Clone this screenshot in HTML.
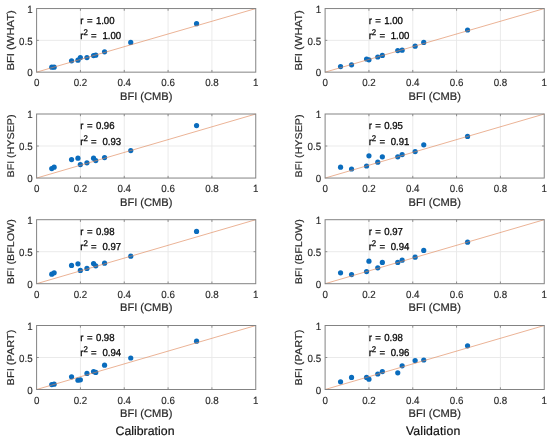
<!DOCTYPE html><html><head><meta charset="utf-8"><title>BFI comparison</title><style>html,body{margin:0;padding:0;background:#fff}svg{display:block}text{font-family:"Liberation Sans",Arial,sans-serif;text-rendering:geometricPrecision}</style></head><body>
<svg width="550" height="441" viewBox="0 0 550 441">
<rect width="550" height="441" fill="#fff"/>
<g><line x1="80.43" y1="8.55" x2="80.43" y2="72.15" stroke="#e8e8e8" stroke-width="0.9"/><line x1="124.26" y1="8.55" x2="124.26" y2="72.15" stroke="#e8e8e8" stroke-width="0.9"/><line x1="168.09" y1="8.55" x2="168.09" y2="72.15" stroke="#e8e8e8" stroke-width="0.9"/><line x1="211.92" y1="8.55" x2="211.92" y2="72.15" stroke="#e8e8e8" stroke-width="0.9"/><line x1="36.60" y1="40.35" x2="255.75" y2="40.35" stroke="#e8e8e8" stroke-width="0.9"/><circle cx="51.75" cy="67.20" r="2.6" fill="#0a6cbd"/><circle cx="54.15" cy="67.20" r="2.6" fill="#0a6cbd"/><circle cx="71.55" cy="60.80" r="2.6" fill="#0a6cbd"/><circle cx="77.95" cy="60.20" r="2.6" fill="#0a6cbd"/><circle cx="80.35" cy="57.60" r="2.6" fill="#0a6cbd"/><circle cx="86.95" cy="57.60" r="2.6" fill="#0a6cbd"/><circle cx="93.55" cy="55.60" r="2.6" fill="#0a6cbd"/><circle cx="95.75" cy="55.20" r="2.6" fill="#0a6cbd"/><circle cx="104.55" cy="51.80" r="2.6" fill="#0a6cbd"/><circle cx="130.75" cy="42.40" r="2.6" fill="#0a6cbd"/><circle cx="196.55" cy="23.70" r="2.6" fill="#0a6cbd"/><line x1="36.60" y1="72.15" x2="255.75" y2="8.55" stroke="#df8455" stroke-width="0.62"/><rect x="36.60" y="8.55" width="219.15" height="63.60" fill="none" stroke="#838383" stroke-width="1.0"/><line x1="80.43" y1="72.15" x2="80.43" y2="69.95" stroke="#838383" stroke-width="0.9"/><line x1="80.43" y1="8.55" x2="80.43" y2="10.75" stroke="#838383" stroke-width="0.9"/><line x1="124.26" y1="72.15" x2="124.26" y2="69.95" stroke="#838383" stroke-width="0.9"/><line x1="124.26" y1="8.55" x2="124.26" y2="10.75" stroke="#838383" stroke-width="0.9"/><line x1="168.09" y1="72.15" x2="168.09" y2="69.95" stroke="#838383" stroke-width="0.9"/><line x1="168.09" y1="8.55" x2="168.09" y2="10.75" stroke="#838383" stroke-width="0.9"/><line x1="211.92" y1="72.15" x2="211.92" y2="69.95" stroke="#838383" stroke-width="0.9"/><line x1="211.92" y1="8.55" x2="211.92" y2="10.75" stroke="#838383" stroke-width="0.9"/><line x1="36.60" y1="40.35" x2="38.80" y2="40.35" stroke="#838383" stroke-width="0.9"/><line x1="255.75" y1="40.35" x2="253.55" y2="40.35" stroke="#838383" stroke-width="0.9"/><text transform="translate(36.60,86.35) scale(0.94,1)" font-size="10.4" fill="#2a2a2a" stroke="#2a2a2a" stroke-width="0.15" text-anchor="middle">0</text><text transform="translate(80.43,86.35) scale(0.94,1)" font-size="10.4" fill="#2a2a2a" stroke="#2a2a2a" stroke-width="0.15" text-anchor="middle">0.2</text><text transform="translate(124.26,86.35) scale(0.94,1)" font-size="10.4" fill="#2a2a2a" stroke="#2a2a2a" stroke-width="0.15" text-anchor="middle">0.4</text><text transform="translate(168.09,86.35) scale(0.94,1)" font-size="10.4" fill="#2a2a2a" stroke="#2a2a2a" stroke-width="0.15" text-anchor="middle">0.6</text><text transform="translate(211.92,86.35) scale(0.94,1)" font-size="10.4" fill="#2a2a2a" stroke="#2a2a2a" stroke-width="0.15" text-anchor="middle">0.8</text><text transform="translate(255.75,86.35) scale(0.94,1)" font-size="10.4" fill="#2a2a2a" stroke="#2a2a2a" stroke-width="0.15" text-anchor="middle">1</text><text transform="translate(32.60,76.37) scale(0.94,1)" font-size="10.4" fill="#2a2a2a" stroke="#2a2a2a" stroke-width="0.15" text-anchor="end">0</text><text transform="translate(32.60,44.57) scale(0.94,1)" font-size="10.4" fill="#2a2a2a" stroke="#2a2a2a" stroke-width="0.15" text-anchor="end">0.5</text><text transform="translate(32.60,12.77) scale(0.94,1)" font-size="10.4" fill="#2a2a2a" stroke="#2a2a2a" stroke-width="0.15" text-anchor="end">1</text><text transform="translate(146.18,99.60) scale(1,1)" font-size="11.1" fill="#2a2a2a" stroke="#2a2a2a" stroke-width="0.2" text-anchor="middle">BFI (CMB)</text><text transform="translate(13.70,40.35) rotate(-90) scale(1,0.9)" font-size="11.25" fill="#2a2a2a" stroke="#2a2a2a" stroke-width="0.2" text-anchor="middle">BFI (WHAT)</text><text transform="translate(80.33,24.00) scale(0.95,1)" font-size="10.1" word-spacing="0.75" fill="#0a0a0a" stroke="#0a0a0a" stroke-width="0.3" xml:space="preserve">r = 1.00</text><text transform="translate(80.33,39.15) scale(0.95,1)" font-size="10.1" word-spacing="0.2" fill="#0a0a0a" stroke="#0a0a0a" stroke-width="0.3" xml:space="preserve">r<tspan font-size="8.28" dy="-4.1">2</tspan><tspan dy="4.1" dx="0.35"> =  1.00</tspan></text></g>
<g><line x1="80.43" y1="114.00" x2="80.43" y2="178.05" stroke="#e8e8e8" stroke-width="0.9"/><line x1="124.26" y1="114.00" x2="124.26" y2="178.05" stroke="#e8e8e8" stroke-width="0.9"/><line x1="168.09" y1="114.00" x2="168.09" y2="178.05" stroke="#e8e8e8" stroke-width="0.9"/><line x1="211.92" y1="114.00" x2="211.92" y2="178.05" stroke="#e8e8e8" stroke-width="0.9"/><line x1="36.60" y1="146.03" x2="255.75" y2="146.03" stroke="#e8e8e8" stroke-width="0.9"/><circle cx="51.75" cy="168.60" r="2.6" fill="#0a6cbd"/><circle cx="54.15" cy="167.20" r="2.6" fill="#0a6cbd"/><circle cx="71.55" cy="159.60" r="2.6" fill="#0a6cbd"/><circle cx="77.95" cy="158.20" r="2.6" fill="#0a6cbd"/><circle cx="80.35" cy="164.60" r="2.6" fill="#0a6cbd"/><circle cx="86.95" cy="162.80" r="2.6" fill="#0a6cbd"/><circle cx="93.55" cy="158.20" r="2.6" fill="#0a6cbd"/><circle cx="95.75" cy="160.60" r="2.6" fill="#0a6cbd"/><circle cx="104.55" cy="157.60" r="2.6" fill="#0a6cbd"/><circle cx="130.75" cy="150.60" r="2.6" fill="#0a6cbd"/><circle cx="196.55" cy="125.60" r="2.6" fill="#0a6cbd"/><line x1="36.60" y1="178.05" x2="255.75" y2="114.00" stroke="#df8455" stroke-width="0.62"/><rect x="36.60" y="114.00" width="219.15" height="64.05" fill="none" stroke="#838383" stroke-width="1.0"/><line x1="80.43" y1="178.05" x2="80.43" y2="175.85" stroke="#838383" stroke-width="0.9"/><line x1="80.43" y1="114.00" x2="80.43" y2="116.20" stroke="#838383" stroke-width="0.9"/><line x1="124.26" y1="178.05" x2="124.26" y2="175.85" stroke="#838383" stroke-width="0.9"/><line x1="124.26" y1="114.00" x2="124.26" y2="116.20" stroke="#838383" stroke-width="0.9"/><line x1="168.09" y1="178.05" x2="168.09" y2="175.85" stroke="#838383" stroke-width="0.9"/><line x1="168.09" y1="114.00" x2="168.09" y2="116.20" stroke="#838383" stroke-width="0.9"/><line x1="211.92" y1="178.05" x2="211.92" y2="175.85" stroke="#838383" stroke-width="0.9"/><line x1="211.92" y1="114.00" x2="211.92" y2="116.20" stroke="#838383" stroke-width="0.9"/><line x1="36.60" y1="146.03" x2="38.80" y2="146.03" stroke="#838383" stroke-width="0.9"/><line x1="255.75" y1="146.03" x2="253.55" y2="146.03" stroke="#838383" stroke-width="0.9"/><text transform="translate(36.60,192.25) scale(0.94,1)" font-size="10.4" fill="#2a2a2a" stroke="#2a2a2a" stroke-width="0.15" text-anchor="middle">0</text><text transform="translate(80.43,192.25) scale(0.94,1)" font-size="10.4" fill="#2a2a2a" stroke="#2a2a2a" stroke-width="0.15" text-anchor="middle">0.2</text><text transform="translate(124.26,192.25) scale(0.94,1)" font-size="10.4" fill="#2a2a2a" stroke="#2a2a2a" stroke-width="0.15" text-anchor="middle">0.4</text><text transform="translate(168.09,192.25) scale(0.94,1)" font-size="10.4" fill="#2a2a2a" stroke="#2a2a2a" stroke-width="0.15" text-anchor="middle">0.6</text><text transform="translate(211.92,192.25) scale(0.94,1)" font-size="10.4" fill="#2a2a2a" stroke="#2a2a2a" stroke-width="0.15" text-anchor="middle">0.8</text><text transform="translate(255.75,192.25) scale(0.94,1)" font-size="10.4" fill="#2a2a2a" stroke="#2a2a2a" stroke-width="0.15" text-anchor="middle">1</text><text transform="translate(32.60,182.27) scale(0.94,1)" font-size="10.4" fill="#2a2a2a" stroke="#2a2a2a" stroke-width="0.15" text-anchor="end">0</text><text transform="translate(32.60,150.25) scale(0.94,1)" font-size="10.4" fill="#2a2a2a" stroke="#2a2a2a" stroke-width="0.15" text-anchor="end">0.5</text><text transform="translate(32.60,118.22) scale(0.94,1)" font-size="10.4" fill="#2a2a2a" stroke="#2a2a2a" stroke-width="0.15" text-anchor="end">1</text><text transform="translate(146.18,205.50) scale(1,1)" font-size="11.1" fill="#2a2a2a" stroke="#2a2a2a" stroke-width="0.2" text-anchor="middle">BFI (CMB)</text><text transform="translate(13.70,146.03) rotate(-90) scale(1,0.9)" font-size="10.7" fill="#2a2a2a" stroke="#2a2a2a" stroke-width="0.2" text-anchor="middle">BFI (HYSEP)</text><text transform="translate(80.33,129.45) scale(0.95,1)" font-size="10.1" word-spacing="0.75" fill="#0a0a0a" stroke="#0a0a0a" stroke-width="0.3" xml:space="preserve">r = 0.96</text><text transform="translate(80.33,144.60) scale(0.95,1)" font-size="10.1" word-spacing="0.2" fill="#0a0a0a" stroke="#0a0a0a" stroke-width="0.3" xml:space="preserve">r<tspan font-size="8.28" dy="-4.1">2</tspan><tspan dy="4.1" dx="0.35"> =  0.93</tspan></text></g>
<g><line x1="80.43" y1="219.70" x2="80.43" y2="283.70" stroke="#e8e8e8" stroke-width="0.9"/><line x1="124.26" y1="219.70" x2="124.26" y2="283.70" stroke="#e8e8e8" stroke-width="0.9"/><line x1="168.09" y1="219.70" x2="168.09" y2="283.70" stroke="#e8e8e8" stroke-width="0.9"/><line x1="211.92" y1="219.70" x2="211.92" y2="283.70" stroke="#e8e8e8" stroke-width="0.9"/><line x1="36.60" y1="251.70" x2="255.75" y2="251.70" stroke="#e8e8e8" stroke-width="0.9"/><circle cx="51.75" cy="274.20" r="2.6" fill="#0a6cbd"/><circle cx="54.15" cy="272.80" r="2.6" fill="#0a6cbd"/><circle cx="71.55" cy="265.40" r="2.6" fill="#0a6cbd"/><circle cx="77.95" cy="263.80" r="2.6" fill="#0a6cbd"/><circle cx="80.35" cy="270.40" r="2.6" fill="#0a6cbd"/><circle cx="86.95" cy="268.40" r="2.6" fill="#0a6cbd"/><circle cx="93.55" cy="263.60" r="2.6" fill="#0a6cbd"/><circle cx="95.75" cy="265.80" r="2.6" fill="#0a6cbd"/><circle cx="104.55" cy="263.20" r="2.6" fill="#0a6cbd"/><circle cx="130.75" cy="256.20" r="2.6" fill="#0a6cbd"/><circle cx="196.55" cy="231.40" r="2.6" fill="#0a6cbd"/><line x1="36.60" y1="283.70" x2="255.75" y2="219.70" stroke="#df8455" stroke-width="0.62"/><rect x="36.60" y="219.70" width="219.15" height="64.00" fill="none" stroke="#838383" stroke-width="1.0"/><line x1="80.43" y1="283.70" x2="80.43" y2="281.50" stroke="#838383" stroke-width="0.9"/><line x1="80.43" y1="219.70" x2="80.43" y2="221.90" stroke="#838383" stroke-width="0.9"/><line x1="124.26" y1="283.70" x2="124.26" y2="281.50" stroke="#838383" stroke-width="0.9"/><line x1="124.26" y1="219.70" x2="124.26" y2="221.90" stroke="#838383" stroke-width="0.9"/><line x1="168.09" y1="283.70" x2="168.09" y2="281.50" stroke="#838383" stroke-width="0.9"/><line x1="168.09" y1="219.70" x2="168.09" y2="221.90" stroke="#838383" stroke-width="0.9"/><line x1="211.92" y1="283.70" x2="211.92" y2="281.50" stroke="#838383" stroke-width="0.9"/><line x1="211.92" y1="219.70" x2="211.92" y2="221.90" stroke="#838383" stroke-width="0.9"/><line x1="36.60" y1="251.70" x2="38.80" y2="251.70" stroke="#838383" stroke-width="0.9"/><line x1="255.75" y1="251.70" x2="253.55" y2="251.70" stroke="#838383" stroke-width="0.9"/><text transform="translate(36.60,297.90) scale(0.94,1)" font-size="10.4" fill="#2a2a2a" stroke="#2a2a2a" stroke-width="0.15" text-anchor="middle">0</text><text transform="translate(80.43,297.90) scale(0.94,1)" font-size="10.4" fill="#2a2a2a" stroke="#2a2a2a" stroke-width="0.15" text-anchor="middle">0.2</text><text transform="translate(124.26,297.90) scale(0.94,1)" font-size="10.4" fill="#2a2a2a" stroke="#2a2a2a" stroke-width="0.15" text-anchor="middle">0.4</text><text transform="translate(168.09,297.90) scale(0.94,1)" font-size="10.4" fill="#2a2a2a" stroke="#2a2a2a" stroke-width="0.15" text-anchor="middle">0.6</text><text transform="translate(211.92,297.90) scale(0.94,1)" font-size="10.4" fill="#2a2a2a" stroke="#2a2a2a" stroke-width="0.15" text-anchor="middle">0.8</text><text transform="translate(255.75,297.90) scale(0.94,1)" font-size="10.4" fill="#2a2a2a" stroke="#2a2a2a" stroke-width="0.15" text-anchor="middle">1</text><text transform="translate(32.60,287.92) scale(0.94,1)" font-size="10.4" fill="#2a2a2a" stroke="#2a2a2a" stroke-width="0.15" text-anchor="end">0</text><text transform="translate(32.60,255.92) scale(0.94,1)" font-size="10.4" fill="#2a2a2a" stroke="#2a2a2a" stroke-width="0.15" text-anchor="end">0.5</text><text transform="translate(32.60,223.92) scale(0.94,1)" font-size="10.4" fill="#2a2a2a" stroke="#2a2a2a" stroke-width="0.15" text-anchor="end">1</text><text transform="translate(146.18,311.15) scale(1,1)" font-size="11.1" fill="#2a2a2a" stroke="#2a2a2a" stroke-width="0.2" text-anchor="middle">BFI (CMB)</text><text transform="translate(13.70,251.70) rotate(-90) scale(1,0.9)" font-size="10.75" fill="#2a2a2a" stroke="#2a2a2a" stroke-width="0.2" text-anchor="middle">BFI (BFLOW)</text><text transform="translate(80.33,235.15) scale(0.95,1)" font-size="10.1" word-spacing="0.75" fill="#0a0a0a" stroke="#0a0a0a" stroke-width="0.3" xml:space="preserve">r = 0.98</text><text transform="translate(80.33,250.30) scale(0.95,1)" font-size="10.1" word-spacing="0.2" fill="#0a0a0a" stroke="#0a0a0a" stroke-width="0.3" xml:space="preserve">r<tspan font-size="8.28" dy="-4.1">2</tspan><tspan dy="4.1" dx="0.35"> =  0.97</tspan></text></g>
<g><line x1="80.43" y1="325.50" x2="80.43" y2="389.50" stroke="#e8e8e8" stroke-width="0.9"/><line x1="124.26" y1="325.50" x2="124.26" y2="389.50" stroke="#e8e8e8" stroke-width="0.9"/><line x1="168.09" y1="325.50" x2="168.09" y2="389.50" stroke="#e8e8e8" stroke-width="0.9"/><line x1="211.92" y1="325.50" x2="211.92" y2="389.50" stroke="#e8e8e8" stroke-width="0.9"/><line x1="36.60" y1="357.50" x2="255.75" y2="357.50" stroke="#e8e8e8" stroke-width="0.9"/><circle cx="51.75" cy="384.60" r="2.6" fill="#0a6cbd"/><circle cx="54.15" cy="384.20" r="2.6" fill="#0a6cbd"/><circle cx="71.55" cy="376.80" r="2.6" fill="#0a6cbd"/><circle cx="77.95" cy="380.20" r="2.6" fill="#0a6cbd"/><circle cx="80.35" cy="379.80" r="2.6" fill="#0a6cbd"/><circle cx="86.95" cy="373.40" r="2.6" fill="#0a6cbd"/><circle cx="93.55" cy="371.60" r="2.6" fill="#0a6cbd"/><circle cx="95.75" cy="372.40" r="2.6" fill="#0a6cbd"/><circle cx="104.55" cy="365.20" r="2.6" fill="#0a6cbd"/><circle cx="130.75" cy="358.00" r="2.6" fill="#0a6cbd"/><circle cx="196.55" cy="341.20" r="2.6" fill="#0a6cbd"/><line x1="36.60" y1="389.50" x2="255.75" y2="325.50" stroke="#df8455" stroke-width="0.62"/><rect x="36.60" y="325.50" width="219.15" height="64.00" fill="none" stroke="#838383" stroke-width="1.0"/><line x1="80.43" y1="389.50" x2="80.43" y2="387.30" stroke="#838383" stroke-width="0.9"/><line x1="80.43" y1="325.50" x2="80.43" y2="327.70" stroke="#838383" stroke-width="0.9"/><line x1="124.26" y1="389.50" x2="124.26" y2="387.30" stroke="#838383" stroke-width="0.9"/><line x1="124.26" y1="325.50" x2="124.26" y2="327.70" stroke="#838383" stroke-width="0.9"/><line x1="168.09" y1="389.50" x2="168.09" y2="387.30" stroke="#838383" stroke-width="0.9"/><line x1="168.09" y1="325.50" x2="168.09" y2="327.70" stroke="#838383" stroke-width="0.9"/><line x1="211.92" y1="389.50" x2="211.92" y2="387.30" stroke="#838383" stroke-width="0.9"/><line x1="211.92" y1="325.50" x2="211.92" y2="327.70" stroke="#838383" stroke-width="0.9"/><line x1="36.60" y1="357.50" x2="38.80" y2="357.50" stroke="#838383" stroke-width="0.9"/><line x1="255.75" y1="357.50" x2="253.55" y2="357.50" stroke="#838383" stroke-width="0.9"/><text transform="translate(36.60,403.70) scale(0.94,1)" font-size="10.4" fill="#2a2a2a" stroke="#2a2a2a" stroke-width="0.15" text-anchor="middle">0</text><text transform="translate(80.43,403.70) scale(0.94,1)" font-size="10.4" fill="#2a2a2a" stroke="#2a2a2a" stroke-width="0.15" text-anchor="middle">0.2</text><text transform="translate(124.26,403.70) scale(0.94,1)" font-size="10.4" fill="#2a2a2a" stroke="#2a2a2a" stroke-width="0.15" text-anchor="middle">0.4</text><text transform="translate(168.09,403.70) scale(0.94,1)" font-size="10.4" fill="#2a2a2a" stroke="#2a2a2a" stroke-width="0.15" text-anchor="middle">0.6</text><text transform="translate(211.92,403.70) scale(0.94,1)" font-size="10.4" fill="#2a2a2a" stroke="#2a2a2a" stroke-width="0.15" text-anchor="middle">0.8</text><text transform="translate(255.75,403.70) scale(0.94,1)" font-size="10.4" fill="#2a2a2a" stroke="#2a2a2a" stroke-width="0.15" text-anchor="middle">1</text><text transform="translate(32.60,393.72) scale(0.94,1)" font-size="10.4" fill="#2a2a2a" stroke="#2a2a2a" stroke-width="0.15" text-anchor="end">0</text><text transform="translate(32.60,361.72) scale(0.94,1)" font-size="10.4" fill="#2a2a2a" stroke="#2a2a2a" stroke-width="0.15" text-anchor="end">0.5</text><text transform="translate(32.60,329.72) scale(0.94,1)" font-size="10.4" fill="#2a2a2a" stroke="#2a2a2a" stroke-width="0.15" text-anchor="end">1</text><text transform="translate(146.18,416.95) scale(1,1)" font-size="11.1" fill="#2a2a2a" stroke="#2a2a2a" stroke-width="0.2" text-anchor="middle">BFI (CMB)</text><text transform="translate(13.70,357.50) rotate(-90) scale(1,0.9)" font-size="11.0" fill="#2a2a2a" stroke="#2a2a2a" stroke-width="0.2" text-anchor="middle">BFI (PART)</text><text transform="translate(80.33,340.95) scale(0.95,1)" font-size="10.1" word-spacing="0.75" fill="#0a0a0a" stroke="#0a0a0a" stroke-width="0.3" xml:space="preserve">r = 0.98</text><text transform="translate(80.33,356.10) scale(0.95,1)" font-size="10.1" word-spacing="0.2" fill="#0a0a0a" stroke="#0a0a0a" stroke-width="0.3" xml:space="preserve">r<tspan font-size="8.28" dy="-4.1">2</tspan><tspan dy="4.1" dx="0.35"> =  0.94</tspan></text></g>
<g><line x1="368.93" y1="8.55" x2="368.93" y2="72.15" stroke="#e8e8e8" stroke-width="0.9"/><line x1="412.76" y1="8.55" x2="412.76" y2="72.15" stroke="#e8e8e8" stroke-width="0.9"/><line x1="456.59" y1="8.55" x2="456.59" y2="72.15" stroke="#e8e8e8" stroke-width="0.9"/><line x1="500.42" y1="8.55" x2="500.42" y2="72.15" stroke="#e8e8e8" stroke-width="0.9"/><line x1="325.10" y1="40.35" x2="544.25" y2="40.35" stroke="#e8e8e8" stroke-width="0.9"/><circle cx="340.55" cy="66.60" r="2.6" fill="#0a6cbd"/><circle cx="351.55" cy="64.80" r="2.6" fill="#0a6cbd"/><circle cx="366.55" cy="59.00" r="2.6" fill="#0a6cbd"/><circle cx="368.95" cy="59.80" r="2.6" fill="#0a6cbd"/><circle cx="377.75" cy="57.00" r="2.6" fill="#0a6cbd"/><circle cx="382.35" cy="55.40" r="2.6" fill="#0a6cbd"/><circle cx="397.75" cy="50.60" r="2.6" fill="#0a6cbd"/><circle cx="402.15" cy="50.20" r="2.6" fill="#0a6cbd"/><circle cx="415.15" cy="46.20" r="2.6" fill="#0a6cbd"/><circle cx="423.75" cy="42.40" r="2.6" fill="#0a6cbd"/><circle cx="467.55" cy="30.00" r="2.6" fill="#0a6cbd"/><line x1="325.10" y1="72.15" x2="544.25" y2="8.55" stroke="#df8455" stroke-width="0.62"/><rect x="325.10" y="8.55" width="219.15" height="63.60" fill="none" stroke="#838383" stroke-width="1.0"/><line x1="368.93" y1="72.15" x2="368.93" y2="69.95" stroke="#838383" stroke-width="0.9"/><line x1="368.93" y1="8.55" x2="368.93" y2="10.75" stroke="#838383" stroke-width="0.9"/><line x1="412.76" y1="72.15" x2="412.76" y2="69.95" stroke="#838383" stroke-width="0.9"/><line x1="412.76" y1="8.55" x2="412.76" y2="10.75" stroke="#838383" stroke-width="0.9"/><line x1="456.59" y1="72.15" x2="456.59" y2="69.95" stroke="#838383" stroke-width="0.9"/><line x1="456.59" y1="8.55" x2="456.59" y2="10.75" stroke="#838383" stroke-width="0.9"/><line x1="500.42" y1="72.15" x2="500.42" y2="69.95" stroke="#838383" stroke-width="0.9"/><line x1="500.42" y1="8.55" x2="500.42" y2="10.75" stroke="#838383" stroke-width="0.9"/><line x1="325.10" y1="40.35" x2="327.30" y2="40.35" stroke="#838383" stroke-width="0.9"/><line x1="544.25" y1="40.35" x2="542.05" y2="40.35" stroke="#838383" stroke-width="0.9"/><text transform="translate(325.10,86.35) scale(0.94,1)" font-size="10.4" fill="#2a2a2a" stroke="#2a2a2a" stroke-width="0.15" text-anchor="middle">0</text><text transform="translate(368.93,86.35) scale(0.94,1)" font-size="10.4" fill="#2a2a2a" stroke="#2a2a2a" stroke-width="0.15" text-anchor="middle">0.2</text><text transform="translate(412.76,86.35) scale(0.94,1)" font-size="10.4" fill="#2a2a2a" stroke="#2a2a2a" stroke-width="0.15" text-anchor="middle">0.4</text><text transform="translate(456.59,86.35) scale(0.94,1)" font-size="10.4" fill="#2a2a2a" stroke="#2a2a2a" stroke-width="0.15" text-anchor="middle">0.6</text><text transform="translate(500.42,86.35) scale(0.94,1)" font-size="10.4" fill="#2a2a2a" stroke="#2a2a2a" stroke-width="0.15" text-anchor="middle">0.8</text><text transform="translate(544.25,86.35) scale(0.94,1)" font-size="10.4" fill="#2a2a2a" stroke="#2a2a2a" stroke-width="0.15" text-anchor="middle">1</text><text transform="translate(321.10,76.37) scale(0.94,1)" font-size="10.4" fill="#2a2a2a" stroke="#2a2a2a" stroke-width="0.15" text-anchor="end">0</text><text transform="translate(321.10,44.57) scale(0.94,1)" font-size="10.4" fill="#2a2a2a" stroke="#2a2a2a" stroke-width="0.15" text-anchor="end">0.5</text><text transform="translate(321.10,12.77) scale(0.94,1)" font-size="10.4" fill="#2a2a2a" stroke="#2a2a2a" stroke-width="0.15" text-anchor="end">1</text><text transform="translate(434.68,99.60) scale(1,1)" font-size="11.1" fill="#2a2a2a" stroke="#2a2a2a" stroke-width="0.2" text-anchor="middle">BFI (CMB)</text><text transform="translate(302.20,40.35) rotate(-90) scale(1,0.9)" font-size="11.25" fill="#2a2a2a" stroke="#2a2a2a" stroke-width="0.2" text-anchor="middle">BFI (WHAT)</text><text transform="translate(368.63,24.00) scale(0.95,1)" font-size="10.1" word-spacing="0.75" fill="#0a0a0a" stroke="#0a0a0a" stroke-width="0.3" xml:space="preserve">r = 1.00</text><text transform="translate(368.63,39.15) scale(0.95,1)" font-size="10.1" word-spacing="0.2" fill="#0a0a0a" stroke="#0a0a0a" stroke-width="0.3" xml:space="preserve">r<tspan font-size="8.28" dy="-4.1">2</tspan><tspan dy="4.1" dx="0.35"> =  1.00</tspan></text></g>
<g><line x1="368.93" y1="114.00" x2="368.93" y2="178.05" stroke="#e8e8e8" stroke-width="0.9"/><line x1="412.76" y1="114.00" x2="412.76" y2="178.05" stroke="#e8e8e8" stroke-width="0.9"/><line x1="456.59" y1="114.00" x2="456.59" y2="178.05" stroke="#e8e8e8" stroke-width="0.9"/><line x1="500.42" y1="114.00" x2="500.42" y2="178.05" stroke="#e8e8e8" stroke-width="0.9"/><line x1="325.10" y1="146.03" x2="544.25" y2="146.03" stroke="#e8e8e8" stroke-width="0.9"/><circle cx="340.55" cy="167.20" r="2.6" fill="#0a6cbd"/><circle cx="351.55" cy="169.00" r="2.6" fill="#0a6cbd"/><circle cx="366.55" cy="166.00" r="2.6" fill="#0a6cbd"/><circle cx="368.95" cy="155.80" r="2.6" fill="#0a6cbd"/><circle cx="377.75" cy="162.20" r="2.6" fill="#0a6cbd"/><circle cx="382.35" cy="156.80" r="2.6" fill="#0a6cbd"/><circle cx="397.75" cy="156.80" r="2.6" fill="#0a6cbd"/><circle cx="402.15" cy="154.60" r="2.6" fill="#0a6cbd"/><circle cx="415.15" cy="151.60" r="2.6" fill="#0a6cbd"/><circle cx="423.75" cy="144.80" r="2.6" fill="#0a6cbd"/><circle cx="467.55" cy="136.40" r="2.6" fill="#0a6cbd"/><line x1="325.10" y1="178.05" x2="544.25" y2="114.00" stroke="#df8455" stroke-width="0.62"/><rect x="325.10" y="114.00" width="219.15" height="64.05" fill="none" stroke="#838383" stroke-width="1.0"/><line x1="368.93" y1="178.05" x2="368.93" y2="175.85" stroke="#838383" stroke-width="0.9"/><line x1="368.93" y1="114.00" x2="368.93" y2="116.20" stroke="#838383" stroke-width="0.9"/><line x1="412.76" y1="178.05" x2="412.76" y2="175.85" stroke="#838383" stroke-width="0.9"/><line x1="412.76" y1="114.00" x2="412.76" y2="116.20" stroke="#838383" stroke-width="0.9"/><line x1="456.59" y1="178.05" x2="456.59" y2="175.85" stroke="#838383" stroke-width="0.9"/><line x1="456.59" y1="114.00" x2="456.59" y2="116.20" stroke="#838383" stroke-width="0.9"/><line x1="500.42" y1="178.05" x2="500.42" y2="175.85" stroke="#838383" stroke-width="0.9"/><line x1="500.42" y1="114.00" x2="500.42" y2="116.20" stroke="#838383" stroke-width="0.9"/><line x1="325.10" y1="146.03" x2="327.30" y2="146.03" stroke="#838383" stroke-width="0.9"/><line x1="544.25" y1="146.03" x2="542.05" y2="146.03" stroke="#838383" stroke-width="0.9"/><text transform="translate(325.10,192.25) scale(0.94,1)" font-size="10.4" fill="#2a2a2a" stroke="#2a2a2a" stroke-width="0.15" text-anchor="middle">0</text><text transform="translate(368.93,192.25) scale(0.94,1)" font-size="10.4" fill="#2a2a2a" stroke="#2a2a2a" stroke-width="0.15" text-anchor="middle">0.2</text><text transform="translate(412.76,192.25) scale(0.94,1)" font-size="10.4" fill="#2a2a2a" stroke="#2a2a2a" stroke-width="0.15" text-anchor="middle">0.4</text><text transform="translate(456.59,192.25) scale(0.94,1)" font-size="10.4" fill="#2a2a2a" stroke="#2a2a2a" stroke-width="0.15" text-anchor="middle">0.6</text><text transform="translate(500.42,192.25) scale(0.94,1)" font-size="10.4" fill="#2a2a2a" stroke="#2a2a2a" stroke-width="0.15" text-anchor="middle">0.8</text><text transform="translate(544.25,192.25) scale(0.94,1)" font-size="10.4" fill="#2a2a2a" stroke="#2a2a2a" stroke-width="0.15" text-anchor="middle">1</text><text transform="translate(321.10,182.27) scale(0.94,1)" font-size="10.4" fill="#2a2a2a" stroke="#2a2a2a" stroke-width="0.15" text-anchor="end">0</text><text transform="translate(321.10,150.25) scale(0.94,1)" font-size="10.4" fill="#2a2a2a" stroke="#2a2a2a" stroke-width="0.15" text-anchor="end">0.5</text><text transform="translate(321.10,118.22) scale(0.94,1)" font-size="10.4" fill="#2a2a2a" stroke="#2a2a2a" stroke-width="0.15" text-anchor="end">1</text><text transform="translate(434.68,205.50) scale(1,1)" font-size="11.1" fill="#2a2a2a" stroke="#2a2a2a" stroke-width="0.2" text-anchor="middle">BFI (CMB)</text><text transform="translate(302.20,146.03) rotate(-90) scale(1,0.9)" font-size="10.7" fill="#2a2a2a" stroke="#2a2a2a" stroke-width="0.2" text-anchor="middle">BFI (HYSEP)</text><text transform="translate(368.63,129.45) scale(0.95,1)" font-size="10.1" word-spacing="0.75" fill="#0a0a0a" stroke="#0a0a0a" stroke-width="0.3" xml:space="preserve">r = 0.95</text><text transform="translate(368.63,144.60) scale(0.95,1)" font-size="10.1" word-spacing="0.2" fill="#0a0a0a" stroke="#0a0a0a" stroke-width="0.3" xml:space="preserve">r<tspan font-size="8.28" dy="-4.1">2</tspan><tspan dy="4.1" dx="0.35"> =  0.91</tspan></text></g>
<g><line x1="368.93" y1="219.70" x2="368.93" y2="283.70" stroke="#e8e8e8" stroke-width="0.9"/><line x1="412.76" y1="219.70" x2="412.76" y2="283.70" stroke="#e8e8e8" stroke-width="0.9"/><line x1="456.59" y1="219.70" x2="456.59" y2="283.70" stroke="#e8e8e8" stroke-width="0.9"/><line x1="500.42" y1="219.70" x2="500.42" y2="283.70" stroke="#e8e8e8" stroke-width="0.9"/><line x1="325.10" y1="251.70" x2="544.25" y2="251.70" stroke="#e8e8e8" stroke-width="0.9"/><circle cx="340.55" cy="272.80" r="2.6" fill="#0a6cbd"/><circle cx="351.55" cy="274.60" r="2.6" fill="#0a6cbd"/><circle cx="366.55" cy="271.60" r="2.6" fill="#0a6cbd"/><circle cx="368.95" cy="261.20" r="2.6" fill="#0a6cbd"/><circle cx="377.75" cy="267.80" r="2.6" fill="#0a6cbd"/><circle cx="382.35" cy="262.40" r="2.6" fill="#0a6cbd"/><circle cx="397.75" cy="262.40" r="2.6" fill="#0a6cbd"/><circle cx="402.15" cy="260.20" r="2.6" fill="#0a6cbd"/><circle cx="415.15" cy="257.20" r="2.6" fill="#0a6cbd"/><circle cx="423.75" cy="250.40" r="2.6" fill="#0a6cbd"/><circle cx="467.55" cy="242.20" r="2.6" fill="#0a6cbd"/><line x1="325.10" y1="283.70" x2="544.25" y2="219.70" stroke="#df8455" stroke-width="0.62"/><rect x="325.10" y="219.70" width="219.15" height="64.00" fill="none" stroke="#838383" stroke-width="1.0"/><line x1="368.93" y1="283.70" x2="368.93" y2="281.50" stroke="#838383" stroke-width="0.9"/><line x1="368.93" y1="219.70" x2="368.93" y2="221.90" stroke="#838383" stroke-width="0.9"/><line x1="412.76" y1="283.70" x2="412.76" y2="281.50" stroke="#838383" stroke-width="0.9"/><line x1="412.76" y1="219.70" x2="412.76" y2="221.90" stroke="#838383" stroke-width="0.9"/><line x1="456.59" y1="283.70" x2="456.59" y2="281.50" stroke="#838383" stroke-width="0.9"/><line x1="456.59" y1="219.70" x2="456.59" y2="221.90" stroke="#838383" stroke-width="0.9"/><line x1="500.42" y1="283.70" x2="500.42" y2="281.50" stroke="#838383" stroke-width="0.9"/><line x1="500.42" y1="219.70" x2="500.42" y2="221.90" stroke="#838383" stroke-width="0.9"/><line x1="325.10" y1="251.70" x2="327.30" y2="251.70" stroke="#838383" stroke-width="0.9"/><line x1="544.25" y1="251.70" x2="542.05" y2="251.70" stroke="#838383" stroke-width="0.9"/><text transform="translate(325.10,297.90) scale(0.94,1)" font-size="10.4" fill="#2a2a2a" stroke="#2a2a2a" stroke-width="0.15" text-anchor="middle">0</text><text transform="translate(368.93,297.90) scale(0.94,1)" font-size="10.4" fill="#2a2a2a" stroke="#2a2a2a" stroke-width="0.15" text-anchor="middle">0.2</text><text transform="translate(412.76,297.90) scale(0.94,1)" font-size="10.4" fill="#2a2a2a" stroke="#2a2a2a" stroke-width="0.15" text-anchor="middle">0.4</text><text transform="translate(456.59,297.90) scale(0.94,1)" font-size="10.4" fill="#2a2a2a" stroke="#2a2a2a" stroke-width="0.15" text-anchor="middle">0.6</text><text transform="translate(500.42,297.90) scale(0.94,1)" font-size="10.4" fill="#2a2a2a" stroke="#2a2a2a" stroke-width="0.15" text-anchor="middle">0.8</text><text transform="translate(544.25,297.90) scale(0.94,1)" font-size="10.4" fill="#2a2a2a" stroke="#2a2a2a" stroke-width="0.15" text-anchor="middle">1</text><text transform="translate(321.10,287.92) scale(0.94,1)" font-size="10.4" fill="#2a2a2a" stroke="#2a2a2a" stroke-width="0.15" text-anchor="end">0</text><text transform="translate(321.10,255.92) scale(0.94,1)" font-size="10.4" fill="#2a2a2a" stroke="#2a2a2a" stroke-width="0.15" text-anchor="end">0.5</text><text transform="translate(321.10,223.92) scale(0.94,1)" font-size="10.4" fill="#2a2a2a" stroke="#2a2a2a" stroke-width="0.15" text-anchor="end">1</text><text transform="translate(434.68,311.15) scale(1,1)" font-size="11.1" fill="#2a2a2a" stroke="#2a2a2a" stroke-width="0.2" text-anchor="middle">BFI (CMB)</text><text transform="translate(302.20,251.70) rotate(-90) scale(1,0.9)" font-size="10.75" fill="#2a2a2a" stroke="#2a2a2a" stroke-width="0.2" text-anchor="middle">BFI (BFLOW)</text><text transform="translate(368.63,235.15) scale(0.95,1)" font-size="10.1" word-spacing="0.75" fill="#0a0a0a" stroke="#0a0a0a" stroke-width="0.3" xml:space="preserve">r = 0.97</text><text transform="translate(368.63,250.30) scale(0.95,1)" font-size="10.1" word-spacing="0.2" fill="#0a0a0a" stroke="#0a0a0a" stroke-width="0.3" xml:space="preserve">r<tspan font-size="8.28" dy="-4.1">2</tspan><tspan dy="4.1" dx="0.35"> =  0.94</tspan></text></g>
<g><line x1="368.93" y1="325.50" x2="368.93" y2="389.50" stroke="#e8e8e8" stroke-width="0.9"/><line x1="412.76" y1="325.50" x2="412.76" y2="389.50" stroke="#e8e8e8" stroke-width="0.9"/><line x1="456.59" y1="325.50" x2="456.59" y2="389.50" stroke="#e8e8e8" stroke-width="0.9"/><line x1="500.42" y1="325.50" x2="500.42" y2="389.50" stroke="#e8e8e8" stroke-width="0.9"/><line x1="325.10" y1="357.50" x2="544.25" y2="357.50" stroke="#e8e8e8" stroke-width="0.9"/><circle cx="340.55" cy="381.80" r="2.6" fill="#0a6cbd"/><circle cx="351.55" cy="377.40" r="2.6" fill="#0a6cbd"/><circle cx="366.55" cy="377.40" r="2.6" fill="#0a6cbd"/><circle cx="368.95" cy="379.20" r="2.6" fill="#0a6cbd"/><circle cx="377.75" cy="374.00" r="2.6" fill="#0a6cbd"/><circle cx="382.35" cy="371.60" r="2.6" fill="#0a6cbd"/><circle cx="397.75" cy="372.80" r="2.6" fill="#0a6cbd"/><circle cx="402.15" cy="365.80" r="2.6" fill="#0a6cbd"/><circle cx="415.15" cy="360.60" r="2.6" fill="#0a6cbd"/><circle cx="423.75" cy="360.00" r="2.6" fill="#0a6cbd"/><circle cx="467.55" cy="345.80" r="2.6" fill="#0a6cbd"/><line x1="325.10" y1="389.50" x2="544.25" y2="325.50" stroke="#df8455" stroke-width="0.62"/><rect x="325.10" y="325.50" width="219.15" height="64.00" fill="none" stroke="#838383" stroke-width="1.0"/><line x1="368.93" y1="389.50" x2="368.93" y2="387.30" stroke="#838383" stroke-width="0.9"/><line x1="368.93" y1="325.50" x2="368.93" y2="327.70" stroke="#838383" stroke-width="0.9"/><line x1="412.76" y1="389.50" x2="412.76" y2="387.30" stroke="#838383" stroke-width="0.9"/><line x1="412.76" y1="325.50" x2="412.76" y2="327.70" stroke="#838383" stroke-width="0.9"/><line x1="456.59" y1="389.50" x2="456.59" y2="387.30" stroke="#838383" stroke-width="0.9"/><line x1="456.59" y1="325.50" x2="456.59" y2="327.70" stroke="#838383" stroke-width="0.9"/><line x1="500.42" y1="389.50" x2="500.42" y2="387.30" stroke="#838383" stroke-width="0.9"/><line x1="500.42" y1="325.50" x2="500.42" y2="327.70" stroke="#838383" stroke-width="0.9"/><line x1="325.10" y1="357.50" x2="327.30" y2="357.50" stroke="#838383" stroke-width="0.9"/><line x1="544.25" y1="357.50" x2="542.05" y2="357.50" stroke="#838383" stroke-width="0.9"/><text transform="translate(325.10,403.70) scale(0.94,1)" font-size="10.4" fill="#2a2a2a" stroke="#2a2a2a" stroke-width="0.15" text-anchor="middle">0</text><text transform="translate(368.93,403.70) scale(0.94,1)" font-size="10.4" fill="#2a2a2a" stroke="#2a2a2a" stroke-width="0.15" text-anchor="middle">0.2</text><text transform="translate(412.76,403.70) scale(0.94,1)" font-size="10.4" fill="#2a2a2a" stroke="#2a2a2a" stroke-width="0.15" text-anchor="middle">0.4</text><text transform="translate(456.59,403.70) scale(0.94,1)" font-size="10.4" fill="#2a2a2a" stroke="#2a2a2a" stroke-width="0.15" text-anchor="middle">0.6</text><text transform="translate(500.42,403.70) scale(0.94,1)" font-size="10.4" fill="#2a2a2a" stroke="#2a2a2a" stroke-width="0.15" text-anchor="middle">0.8</text><text transform="translate(544.25,403.70) scale(0.94,1)" font-size="10.4" fill="#2a2a2a" stroke="#2a2a2a" stroke-width="0.15" text-anchor="middle">1</text><text transform="translate(321.10,393.72) scale(0.94,1)" font-size="10.4" fill="#2a2a2a" stroke="#2a2a2a" stroke-width="0.15" text-anchor="end">0</text><text transform="translate(321.10,361.72) scale(0.94,1)" font-size="10.4" fill="#2a2a2a" stroke="#2a2a2a" stroke-width="0.15" text-anchor="end">0.5</text><text transform="translate(321.10,329.72) scale(0.94,1)" font-size="10.4" fill="#2a2a2a" stroke="#2a2a2a" stroke-width="0.15" text-anchor="end">1</text><text transform="translate(434.68,416.95) scale(1,1)" font-size="11.1" fill="#2a2a2a" stroke="#2a2a2a" stroke-width="0.2" text-anchor="middle">BFI (CMB)</text><text transform="translate(302.20,357.50) rotate(-90) scale(1,0.9)" font-size="11.0" fill="#2a2a2a" stroke="#2a2a2a" stroke-width="0.2" text-anchor="middle">BFI (PART)</text><text transform="translate(368.63,340.95) scale(0.95,1)" font-size="10.1" word-spacing="0.75" fill="#0a0a0a" stroke="#0a0a0a" stroke-width="0.3" xml:space="preserve">r = 0.98</text><text transform="translate(368.63,356.10) scale(0.95,1)" font-size="10.1" word-spacing="0.2" fill="#0a0a0a" stroke="#0a0a0a" stroke-width="0.3" xml:space="preserve">r<tspan font-size="8.28" dy="-4.1">2</tspan><tspan dy="4.1" dx="0.35"> =  0.96</tspan></text></g>
<text x="145.00" y="435.4" font-size="12.3" fill="#111" stroke="#111" stroke-width="0.2" text-anchor="middle" letter-spacing="0.02">Calibration</text>
<text x="433.20" y="435.4" font-size="12.3" fill="#111" stroke="#111" stroke-width="0.2" text-anchor="middle" letter-spacing="0.14">Validation</text>
</svg></body></html>
